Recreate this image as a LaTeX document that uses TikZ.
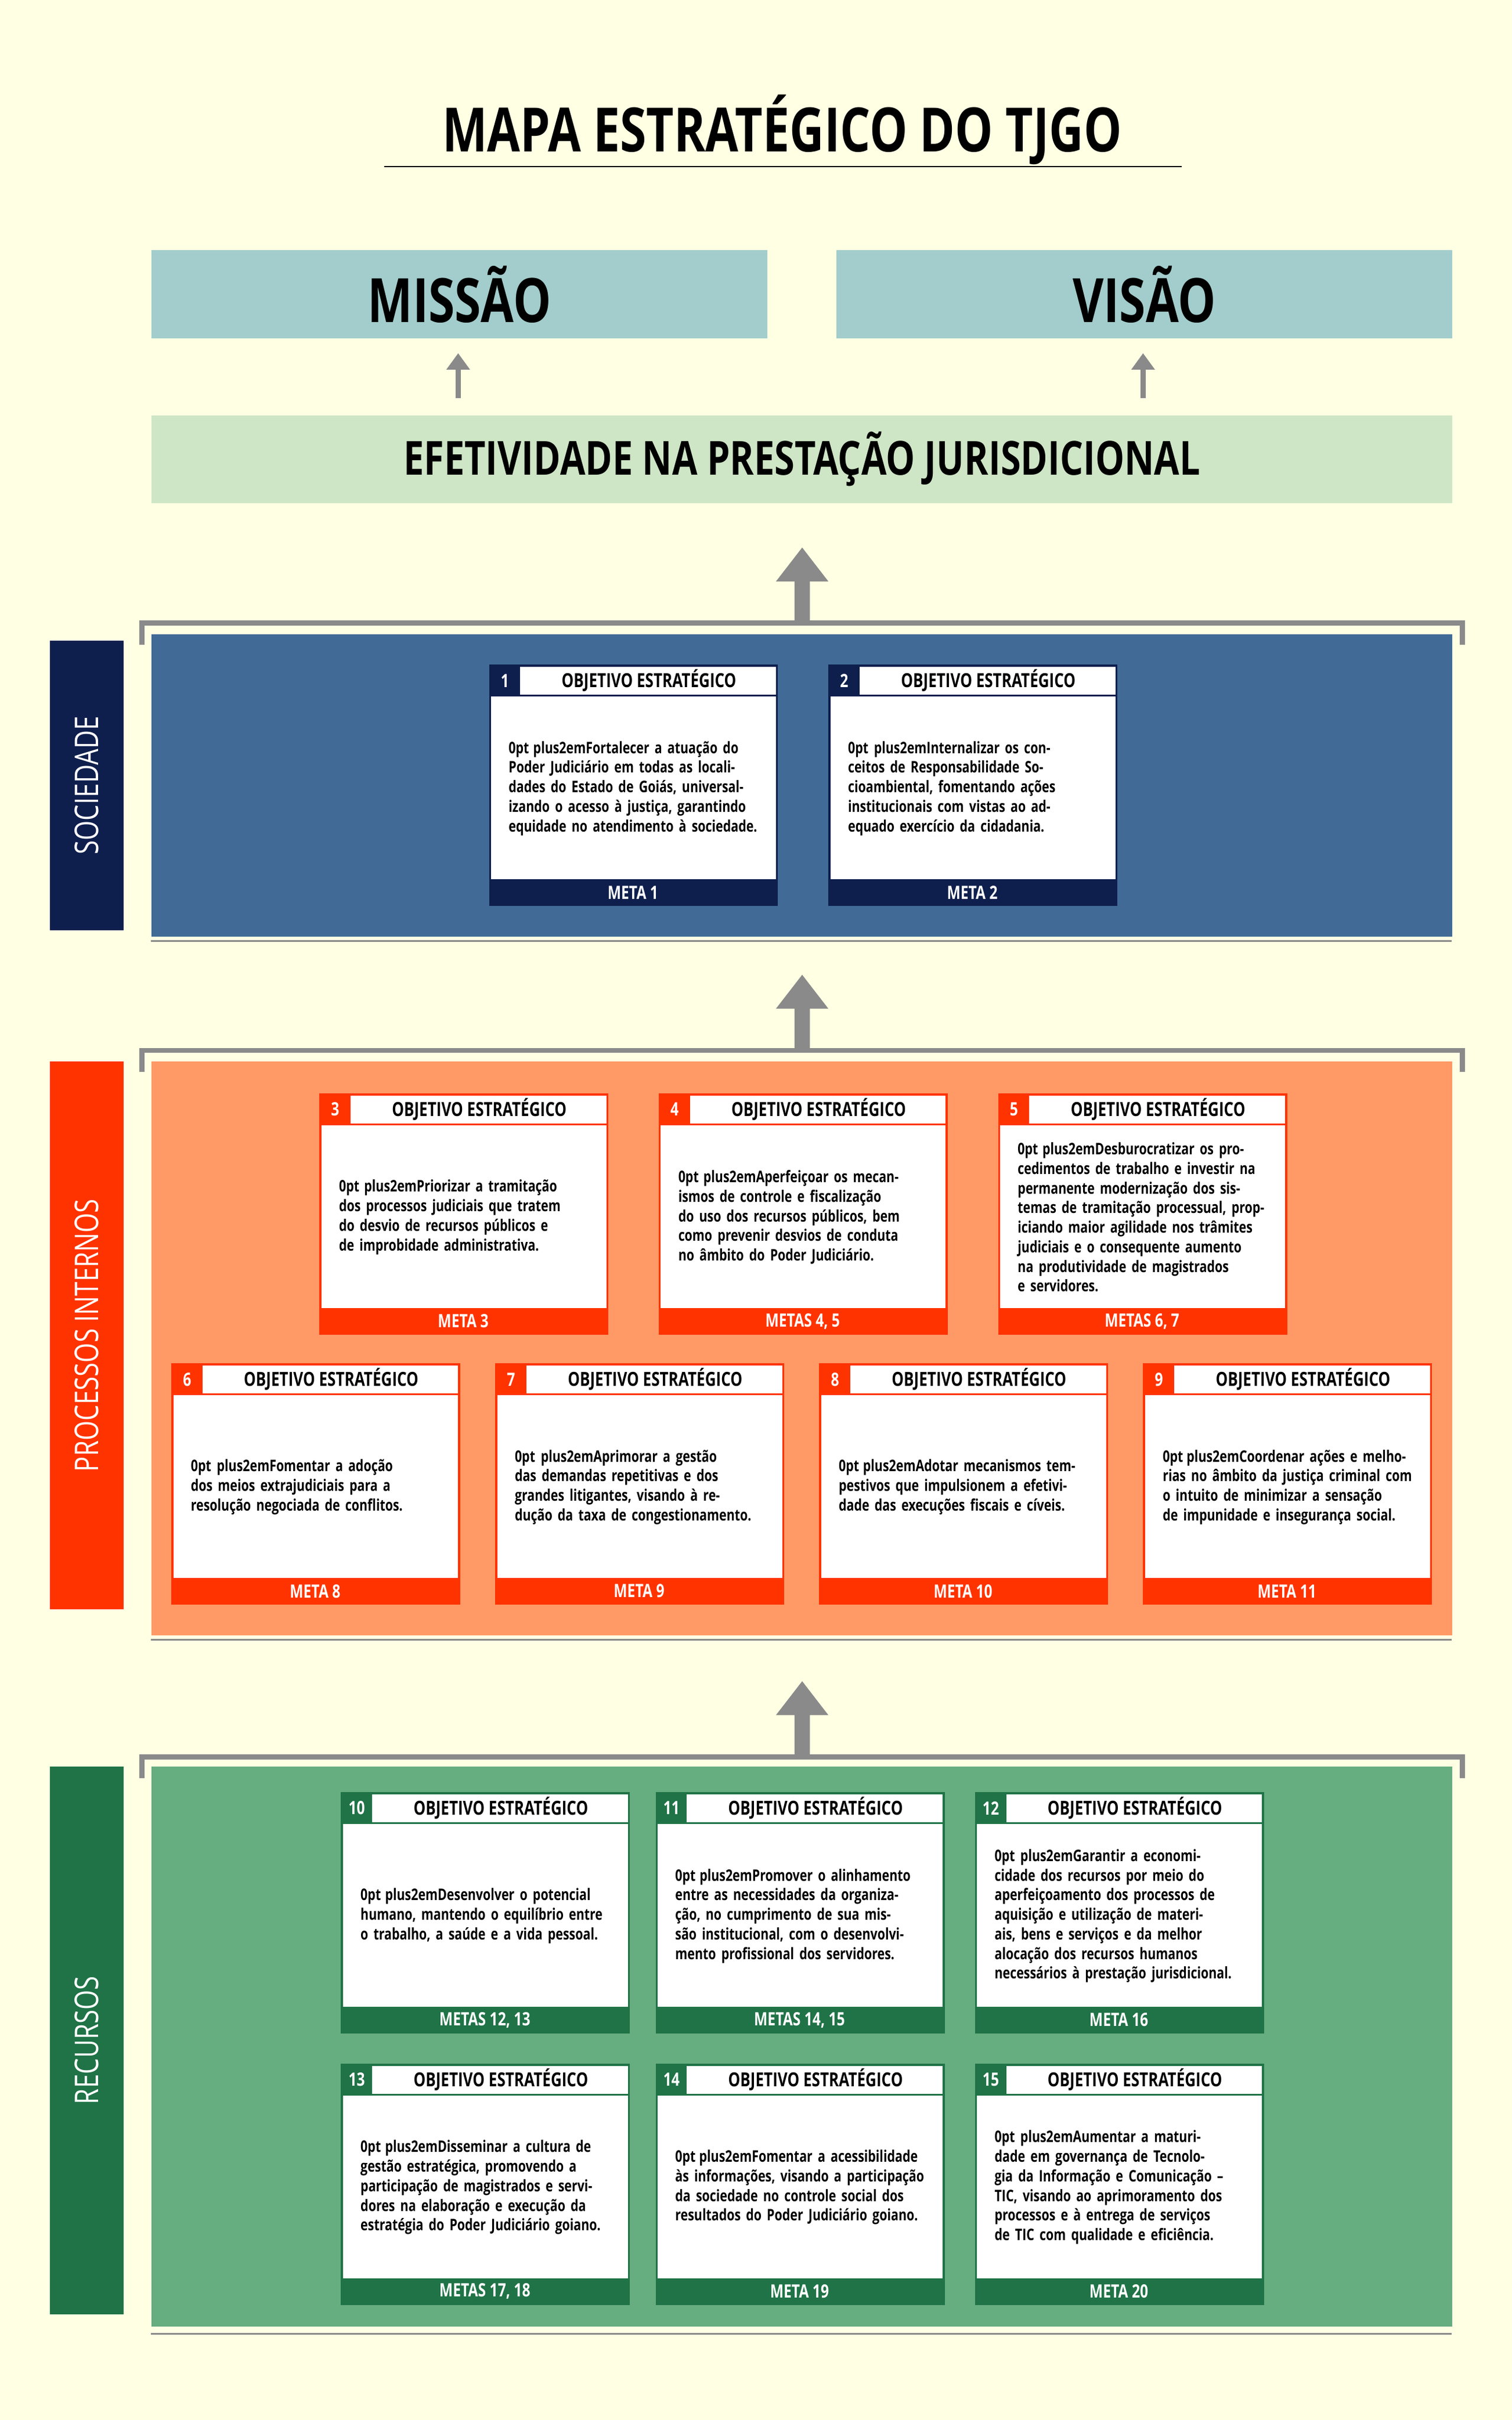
\documentclass[tikz,border=0pt]{standalone}
\usepackage{fontspec}
\setmainfont{Open Sans}[FakeStretch=0.78,BoldFont={* Bold}]
\usetikzlibrary{positioning,arrows.meta}
\definecolor{bgcream}{HTML}{FFFFE3}
\definecolor{ceu}{HTML}{A2CDCC}
\definecolor{verdeclaro}{HTML}{CFE6C6}
\definecolor{socazul}{HTML}{416A96}
\definecolor{socnavy}{HTML}{0E1F4D}
\definecolor{procbg}{HTML}{FF9966}
\definecolor{procred}{HTML}{FF3300}
\definecolor{recbg}{HTML}{66AD80}
\definecolor{recdark}{HTML}{1F7346}
\definecolor{cinza}{HTML}{8A8A8A}
\def\px{0.756pt}

\tikzset{
  band/.style={anchor=north west, inner sep=0pt},
  side/.style={anchor=north west, inner sep=0pt, minimum width=48*\px},
  sidetxt/.style={rotate=90, text=white, font=\fontsize{16}{16}\selectfont},
  head/.style={font=\bfseries\fontsize{30}{30}\selectfont},
  obj/.style={draw=#1, fill=white, line width=1pt, anchor=north west,
    minimum width=186*\px, minimum height=155*\px, inner sep=0pt},
  objnum/.style={fill=#1, text=white, anchor=north west, minimum width=20*\px,
    minimum height=20*\px, inner sep=0pt, font=\bfseries\fontsize{9}{9}\selectfont},
  objhead/.style={anchor=north, minimum height=20*\px, inner sep=0pt,
    font=\bfseries\fontsize{9.5}{9.5}\selectfont},
  objfoot/.style={fill=#1, text=white, anchor=south west, minimum width=186*\px,
    minimum height=17*\px, inner sep=0pt, font=\bfseries\fontsize{9}{9}\selectfont},
  objtxt/.style={text width=4.3cm, align=center,
    font=\bfseries\fontsize{7.8}{9.6}\selectfont\hyphenpenalty=10000},
  bigarrow/.style={draw=none, fill=cinza},
  bracket/.style={draw=cinza, line width=2.5pt},
  smallarrow/.style={draw=cinza, line width=2.5pt, -{Triangle[length=8pt,width=11pt]}},
}

% objetivo box: name, x, y, number, colour, text, meta
\newcommand{\objbox}[7]{%
  \node[obj=#5] (#1) at (#2,#3) {};
  \node[objnum=#5] (#1n) at (#1.north west) {#4};
  \draw[#5, line width=1pt] ([yshift=-20*\px]#1.north west) -- ([yshift=-20*\px]#1.north east);
  \node[objhead] (#1h) at ([xshift=10*\px]#1.north) {OBJETIVO ESTRATÉGICO};
  \node[objfoot=#5] (#1f) at (#1.south west) {#7};
  \node[objtxt] (#1t) at ([yshift=-2*\px]#1.center) {#6};
}

\begin{document}
\begin{tikzpicture}[x=0.02657cm,y=-0.02657cm]
  \fill[bgcream] (0,0) rectangle (980,1569);
  \useasboundingbox (0,0) rectangle (980,1569);

  % titulo
  \node[font=\bfseries\fontsize{30}{30}\selectfont] (titulo) at (507,84) {MAPA ESTRATÉGICO DO TJGO};
  \draw[line width=0.8pt] (249,108) -- (766,108);

  % missao, visao
  \node[band, fill=ceu, minimum width=399*\px, minimum height=57*\px] (missao) at (98,162) {};
  \node[head] at (missao) {MISSÃO};
  \node[band, fill=ceu, minimum width=399*\px, minimum height=57*\px] (visao) at (542,162) {};
  \node[head] at (visao) {VISÃO};
  \node[band, fill=verdeclaro, minimum width=843*\px, minimum height=57*\px] (efet) at (98,269) {};
  \node[font=\bfseries\fontsize{23}{23}\selectfont] at (efet) {EFETIVIDADE NA PRESTAÇÃO JURISDICIONAL};
  \coordinate (m1) at (297,258); \coordinate (m2) at (297,229);
  \coordinate (v1) at (741,258); \coordinate (v2) at (741,229);
  \draw[smallarrow] (m1) -- (m2);
  \draw[smallarrow] (v1) -- (v2);

  % setas grandes e chaves
  \foreach \y in {355,632,1090} {
    \fill[bigarrow] (520,\y) -- (537,\y+22) -- (525,\y+22) -- (525,\y+48) -- (515,\y+48) -- (515,\y+22) -- (503,\y+22) -- cycle;
    \draw[bracket] (92,\y+63) -- (92,\y+49) -- (948,\y+49) -- (948,\y+63);
  }

  % sociedade
  \node[band, fill=socazul, minimum width=843*\px, minimum height=196*\px] (soc) at (98,411) {};
  \draw[cinza, line width=0.8pt] (98,610) -- (941,610);
  \node[side, fill=socnavy, minimum height=188*\px] (socl) at (32,415) {};
  \node[sidetxt] at (socl) {SOCIEDADE};
  \objbox{o1}{317}{431}{1}{socnavy}{Fortalecer a atuação do Poder Judiciário em todas as localidades do Estado de Goiás, universalizando o acesso à justiça, garantindo equidade no atendimento à sociedade.}{META 1}
  \objbox{o2}{537}{431}{2}{socnavy}{Internalizar os conceitos de Responsabilidade Socioambiental, fomentando ações institucionais com vistas ao adequado exercício da cidadania.}{META 2}

  % processos internos
  \node[band, fill=procbg, minimum width=843*\px, minimum height=372*\px] (proc) at (98,688) {};
  \draw[cinza, line width=0.8pt] (98,1063) -- (941,1063);
  \node[side, fill=procred, minimum height=355*\px] (procl) at (32,688) {};
  \node[sidetxt] at (procl) {PROCESSOS INTERNOS};
  \objbox{o3}{207}{709}{3}{procred}{Priorizar a tramitação dos processos judiciais que tratem do desvio de recursos públicos e de improbidade administrativa.}{META 3}
  \objbox{o4}{427}{709}{4}{procred}{Aperfeiçoar os mecanismos de controle e fiscalização do uso dos recursos públicos, bem como prevenir desvios de conduta no âmbito do Poder Judiciário.}{METAS 4, 5}
  \objbox{o5}{647}{709}{5}{procred}{Desburocratizar os procedimentos de trabalho e investir na permanente modernização dos sistemas de tramitação processual, propiciando maior agilidade nos trâmites judiciais e o consequente aumento na produtividade de magistrados\\e servidores.}{METAS 6, 7}
  \objbox{o6}{111}{884}{6}{procred}{Fomentar a adoção dos meios extrajudiciais para a resolução negociada de conflitos.}{META 8}
  \objbox{o7}{321}{884}{7}{procred}{Aprimorar a gestão das demandas repetitivas e dos grandes litigantes, visando à redução da taxa de congestionamento.}{META 9}
  \objbox{o8}{531}{884}{8}{procred}{Adotar mecanismos tempestivos que impulsionem a efetividade das execuções fiscais e cíveis.}{META 10}
  \objbox{o9}{741}{884}{9}{procred}{Coordenar ações e melhorias no âmbito da justiça criminal com o intuito de minimizar a sensação de impunidade e insegurança social.}{META 11}

  % recursos
  \node[band, fill=recbg, minimum width=843*\px, minimum height=363*\px] (rec) at (98,1145) {};
  \draw[cinza, line width=0.8pt] (98,1513) -- (941,1513);
  \node[side, fill=recdark, minimum height=355*\px] (recl) at (32,1145) {};
  \node[sidetxt] at (recl) {RECURSOS};
  \objbox{o10}{221}{1162}{10}{recdark}{Desenvolver o potencial humano, mantendo o equilíbrio entre o trabalho, a saúde e a vida pessoal.}{METAS 12, 13}
  \objbox{o11}{425}{1162}{11}{recdark}{Promover o alinhamento entre as necessidades da organização, no cumprimento de sua missão institucional, com o desenvolvimento profissional dos servidores.}{METAS 14, 15}
  \objbox{o12}{632}{1162}{12}{recdark}{Garantir a economicidade dos recursos por meio do aperfeiçoamento dos processos de aquisição e utilização de materiais, bens e serviços e da melhor alocação dos recursos humanos necessários à prestação jurisdicional.}{META 16}
  \objbox{o13}{221}{1338}{13}{recdark}{Disseminar a cultura de gestão estratégica, promovendo a participação de magistrados e servidores na elaboração e execução da estratégia do Poder Judiciário goiano.}{METAS 17, 18}
  \objbox{o14}{425}{1338}{14}{recdark}{Fomentar a acessibilidade às informações, visando a participação da sociedade no controle social dos resultados do Poder Judiciário goiano.}{META 19}
  \objbox{o15}{632}{1338}{15}{recdark}{Aumentar a maturidade em governança de Tecnologia da Informação e Comunicação – TIC, visando ao aprimoramento dos processos e à entrega de serviços de TIC com qualidade e eficiência.}{META 20}
\end{tikzpicture}
\end{document}
